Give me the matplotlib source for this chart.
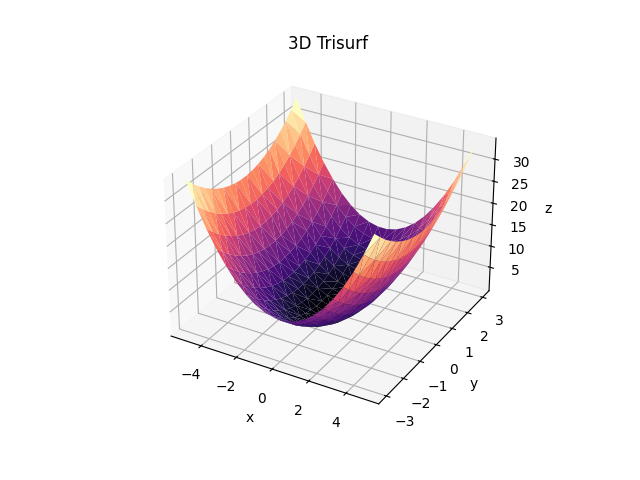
#!/usr/bin/env python3
"""
3D trisurf chart
"""

import numpy as np
import matplotlib
matplotlib.use('Agg')
import matplotlib.pyplot as plt

x_values = [-5, -4.47, -3.95, -3.42, -2.89, -2.37, -1.84, -1.32, -0.79, -0.26,
            0.26, 0.79, 1.32, 1.84, 2.37, 2.89, 3.42, 3.95, 4.47, 5]
y_values = [-3, -2.68, -2.37, -2.05, -1.74, -1.42, -1.11, -0.79, -0.47, -0.16,
            0.16, 0.47, 0.79, 1.11, 1.42, 1.74, 2.05, 2.37, 2.68, 3]
z_ticks = [5, 10, 15, 20, 25, 30]

# one row per y value
z_r0 = [34, 29.01, 24.58, 20.7, 17.38, 14.61, 12.39, 10.73, 9.62, 9.07,
        9.07, 9.62, 10.73, 12.39, 14.61, 17.38, 20.7, 24.58, 29.01, 34]
z_r1 = [32.2, 27.21, 22.78, 18.9, 15.58, 12.81, 10.59, 8.93, 7.82, 7.27,
        7.27, 7.82, 8.93, 10.59, 12.81, 15.58, 18.9, 22.78, 27.21, 32.2]
z_r2 = [30.61, 25.62, 21.19, 17.31, 13.99, 11.22, 9, 7.34, 6.23, 5.68,
        5.68, 6.23, 7.34, 9, 11.22, 13.99, 17.31, 21.19, 25.62, 30.61]
z_r3 = [29.21, 24.22, 19.79, 15.91, 12.59, 9.82, 7.6, 5.94, 4.83, 4.28,
        4.28, 4.83, 5.94, 7.6, 9.82, 12.59, 15.91, 19.79, 24.22, 29.21]
z_r4 = [28.02, 23.03, 18.6, 14.72, 11.4, 8.63, 6.41, 4.75, 3.64, 3.09,
        3.09, 3.64, 4.75, 6.41, 8.63, 11.4, 14.72, 18.6, 23.03, 28.02]
z_r5 = [27.02, 22.03, 17.6, 13.72, 10.4, 7.63, 5.41, 3.75, 2.64, 2.09,
        2.09, 2.64, 3.75, 5.41, 7.63, 10.4, 13.72, 17.6, 22.03, 27.02]
z_r6 = [26.22, 21.23, 16.8, 12.92, 9.6, 6.83, 4.61, 2.95, 1.84, 1.29,
        1.29, 1.84, 2.95, 4.61, 6.83, 9.6, 12.92, 16.8, 21.23, 26.22]
z_r7 = [25.62, 20.63, 16.2, 12.32, 9, 6.23, 4.01, 2.35, 1.24, 0.69,
        0.69, 1.24, 2.35, 4.01, 6.23, 9, 12.32, 16.2, 20.63, 25.62]
z_r8 = [25.22, 20.23, 15.8, 11.92, 8.6, 5.83, 3.61, 1.95, 0.84, 0.29,
        0.29, 0.84, 1.95, 3.61, 5.83, 8.6, 11.92, 15.8, 20.23, 25.22]
z_r9 = [25.02, 20.03, 15.6, 11.72, 8.4, 5.63, 3.41, 1.75, 0.64, 0.09,
        0.09, 0.64, 1.75, 3.41, 5.63, 8.4, 11.72, 15.6, 20.03, 25.02]

z_rows = [z_r0, z_r1, z_r2, z_r3, z_r4, z_r5, z_r6, z_r7, z_r8, z_r9,
          z_r9, z_r8, z_r7, z_r6, z_r5, z_r4, z_r3, z_r2, z_r1, z_r0]

X, Y = np.meshgrid(x_values, y_values)
Z = np.array(z_rows)

fig = plt.figure()
ax = fig.add_subplot(projection='3d')
ax.plot_trisurf(X.ravel(), Y.ravel(), Z.ravel(), cmap='magma')
ax.set_zticks(z_ticks)
ax.set_title('3D Trisurf')
ax.set_xlabel('x')
ax.set_ylabel('y')
ax.set_zlabel('z')

fig.savefig('out.png', dpi=100)
